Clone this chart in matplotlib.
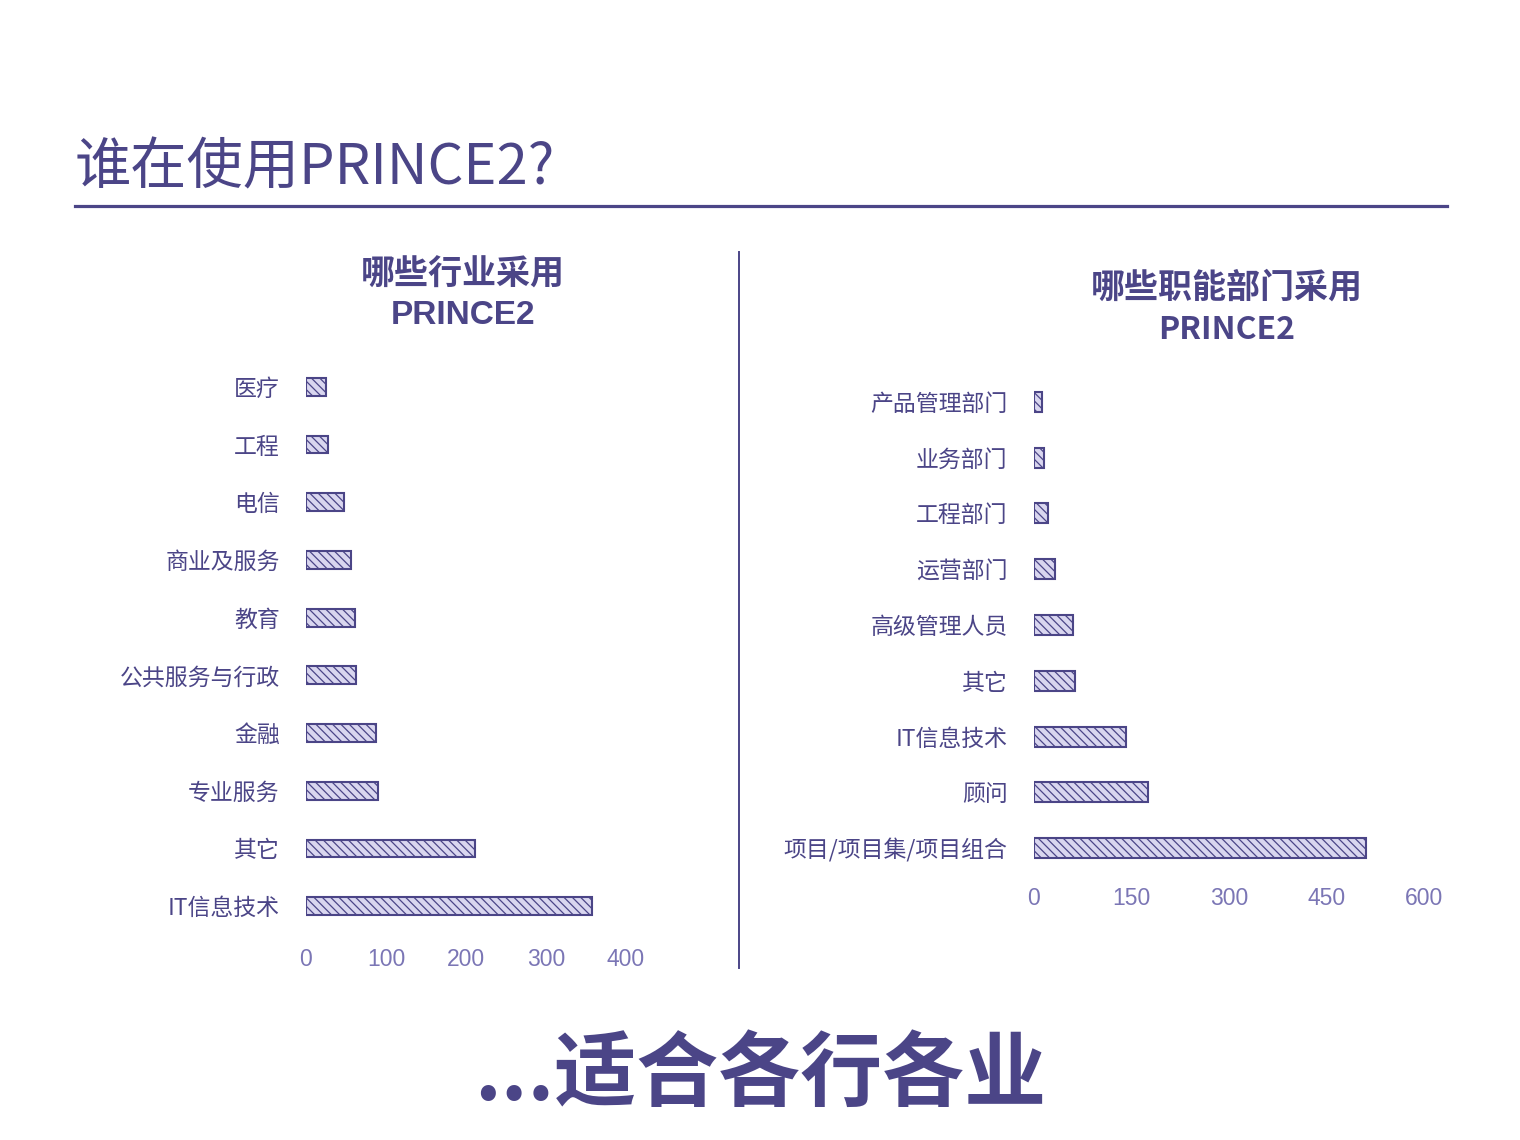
import matplotlib
matplotlib.use("Agg")
import matplotlib.pyplot as plt
from matplotlib.lines import Line2D

plt.rcParams['font.family'] = ['Noto Sans CJK SC', 'DejaVu Sans']
plt.rcParams['hatch.linewidth'] = 0.9

# ---- data ----
industries = ["医疗", "工程", "电信", "商业及服务", "教育", "公共服务与行政",
              "金融", "专业服务", "其它", "IT信息技术"]
industry_values = [25, 27, 48, 56, 61, 63, 87, 90, 211, 357]
industry_ticks = [0, 100, 200, 300, 400]

functions = ["产品管理部门", "业务部门", "工程部门", "运营部门", "高级管理人员",
             "其它", "IT信息技术", "顾问", "项目/项目集/项目组合"]
function_values = [13, 16, 21, 33, 60, 63, 141, 176, 510]
function_ticks = [0, 150, 300, 450, 600]

DARK = "#4b4587"
FILL = "#d9d6ef"
TICK = "#7b76b5"
HATCH = "\\\\\\\\"

fig = plt.figure(figsize=(15.2, 11.4), dpi=100)
W, H = 1520, 1140

def fx(px):
    return px / W

def fy(py):
    return 1 - py / H

def style_axes(ax, cats, vals, ticks, bar_h, pad_y):
    ypos = list(range(len(cats)))
    ax.barh(ypos, vals, height=bar_h, color=FILL, edgecolor=DARK,
            linewidth=1.5, hatch=HATCH)
    ax.set_ylim(len(cats) - 0.5, -0.5)
    ax.set_xlim(ticks[0], ticks[-1])
    ax.set_yticks(ypos)
    ax.set_yticklabels(cats, fontsize=16.5, color=DARK)
    ax.set_xticks(ticks)
    ax.set_xticklabels([str(t) for t in ticks], fontsize=16.5, color=TICK,
                       family=['Liberation Sans', 'DejaVu Sans'])
    ax.tick_params(axis='y', length=0, pad=19)
    ax.tick_params(axis='x', length=0, pad=pad_y)
    for s in ax.spines.values():
        s.set_visible(False)
    ax.set_facecolor("none")

# left axes
axL = fig.add_axes([fx(306), fy(935), fx(626) - fx(306), (935 - 358) / H])
style_axes(axL, industries, industry_values, industry_ticks, 0.31, 9)

# right axes
axR = fig.add_axes([fx(1034), fy(876), fx(1424) - fx(1034), (876 - 374) / H])
style_axes(axR, functions, function_values, function_ticks, 0.36, 8)

# title and rule
fig.text(fx(75), fy(169), "谁在使用PRINCE2?", fontsize=40.5, color=DARK,
         ha='left', va='center')
fig.add_artist(Line2D([fx(75), fx(1447)], [fy(206), fy(206)], color=DARK,
                      linewidth=2.3))

# divider
fig.add_artist(Line2D([fx(739), fx(739)], [fy(252), fy(968)], color=DARK,
                      linewidth=1.4))

# subtitles
fig.text(fx(463), fy(274), "哪些行业采用", fontsize=24.5, color=DARK,
         fontweight='bold', ha='center', va='center')
fig.text(fx(463), fy(315), "PRINCE2", fontsize=24, color=DARK,
         fontweight='bold', ha='center', va='center',
         family=['Liberation Sans', 'DejaVu Sans'])
fig.text(fx(1227), fy(287), "哪些职能部门采用", fontsize=24.5, color=DARK,
         fontweight='bold', ha='center', va='center')
fig.text(fx(1227), fy(330), "PRINCE2", fontsize=23, color=DARK,
         fontweight='bold', ha='center', va='center')

# bottom slogan
fig.text(fx(760), fy(1076), "...适合各行各业", fontsize=59, color=DARK,
         fontweight='bold', ha='center', va='center')

fig.savefig("out.png", dpi=100, facecolor="white")
